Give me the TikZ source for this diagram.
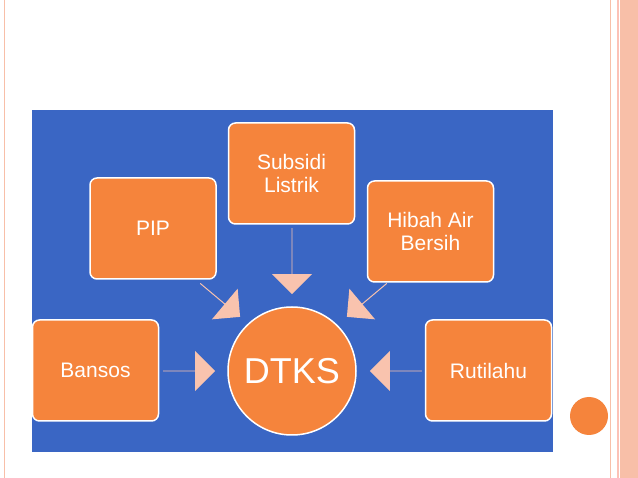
\documentclass[tikz,border=0pt]{standalone}
\usepackage{fontspec}
\setmainfont{Liberation Sans}
\usetikzlibrary{shapes.arrows}
\definecolor{bg}{HTML}{3A66C4}
\definecolor{org}{HTML}{F5843C}
\definecolor{pk}{HTML}{F9C3AE}
\definecolor{band}{HTML}{F8BFA8}
\begin{document}
\begin{tikzpicture}[x=1pt,y=-1pt,
  box/.style={draw=white,line width=1.5pt,fill=org,rounded corners=7pt,minimum width=126pt,minimum height=101pt,text=white,font=\fontsize{21}{23}\selectfont,align=center,inner sep=2pt},
  blk/.style={single arrow,fill=pk,draw=none,minimum height=52pt,minimum width=40pt,single arrow head extend=8pt,inner sep=0pt,single arrow tip angle=90}]
\useasboundingbox (0,0) rectangle (638,478);
\fill[white] (0,0) rectangle (638,478);
% right border bands
\fill[band] (620,0) rectangle (638,478);
\draw[band,line width=1pt] (610.5,0) -- (610.5,478);
\draw[band!80!red!60,line width=1.5pt] (618,0) -- (618,478);
\draw[band,line width=1pt] (4,0) -- (4,478);
\fill[bg] (32,110) rectangle (553,452);
\node[box] (pip) at (153,228.5) {PIP};
\node[box] (sub) at (291.5,173.5) {Subsidi\\Listrik};
\node[box] (hib) at (430.5,231.5) {Hibah Air\\Bersih};
\node[box] (ban) at (95.5,370.5) {Bansos};
\node[box] (rut) at (488.5,370.5) {Rutilahu};
\node[circle,draw=white,line width=1.5pt,fill=org,minimum size=128pt,text=white,font=\fontsize{36}{40}\selectfont] (dtks) at (292,371) {DTKS};
\node[blk] (a1) at (189,371) {};
\node[blk,rotate=180] (a2) at (396,371) {};
\node[blk,rotate=-90,minimum height=66pt] (a3) at (292,261) {};
\node[blk,rotate=-40] (a4) at (220,300) {};
\node[blk,rotate=-140] (a5) at (367,300) {};
\fill[org] (589,416) circle (19);
\end{tikzpicture}
\end{document}
